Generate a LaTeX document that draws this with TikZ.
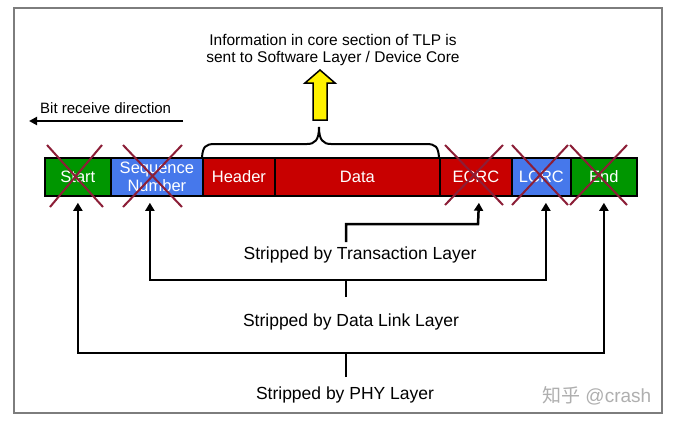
\documentclass[tikz,border=0pt]{standalone}
\usepackage{fontspec}
\setmainfont{Liberation Sans}
\newfontfamily\cjkfont{Noto Sans CJK SC}
\usetikzlibrary{arrows.meta}
\definecolor{pgreen}{RGB}{0,150,0}
\definecolor{pblue}{RGB}{70,120,235}
\definecolor{pred}{RGB}{200,0,0}
\definecolor{xred}{RGB}{140,30,55}
\definecolor{framegray}{RGB}{125,125,125}
\definecolor{wmgray}{RGB}{175,175,175}
\begin{document}
\begin{tikzpicture}[x=1pt,y=-1pt,
  fld/.style={draw=black,line width=1.8pt,minimum height=38pt,inner sep=0pt,
    text=white,font=\fontsize{16.5}{18.5}\selectfont,anchor=north west,align=center},
  conn/.style={line width=2.5pt,-{Triangle[length=8pt,width=9pt]}},
  plain/.style={line width=2.5pt},
  xline/.style={draw=xred,line width=2pt},
  lbl/.style={font=\fontsize{17.5}{20}\selectfont,inner sep=0pt},
  toplbl/.style={font=\fontsize{15.5}{16.5}\selectfont,inner sep=0pt,align=center}]
\useasboundingbox (0,0) rectangle (676,423);
\fill[white] (0,0) rectangle (676,423);

% watermark
\node[text=wmgray,inner sep=0pt,anchor=west,font=\fontsize{19}{21}\selectfont] (wm) at (542,396) {{\cjkfont 知乎} @crash};

\draw[framegray,line width=1.5pt] (14,8) rectangle (662,413);

% fields
\node[fld,fill=pgreen,minimum width=66pt] (start) at (44,157) {Start};
\node[fld,fill=pblue,minimum width=92pt] (seq) at (110,157) {Sequence\\[-1pt]Number};
\node[fld,fill=pred,minimum width=72pt] (hdr) at (202,157) {Header};
\node[fld,fill=pred,minimum width=165pt] (data) at (274,157) {Data};
\node[fld,fill=pred,minimum width=72pt] (ecrc) at (439,157) {ECRC};
\node[fld,fill=pblue,minimum width=59pt] (lcrc) at (511,157) {LCRC};
\node[fld,fill=pgreen,minimum width=66pt] (end) at (570,157) {End};

% crosses
\draw[xline] (47,145) -- (103,207) (102,145) -- (50,207);
\draw[xline] (123,145) -- (182,207) (182,145) -- (123,207);
\draw[xline] (445,145) -- (503,205) (503,145) -- (445,205);
\draw[xline] (512,145) -- (568,205) (568,145) -- (512,205);
\draw[xline] (570,145) -- (627,205) (627,145) -- (570,205);

% brace
\draw[line width=2pt] (hdr.north west) .. controls (203,147) and (205,144) .. (215,144)
  -- (307,144) .. controls (315,144) and (319,140) .. (319,127)
  .. controls (319,140) and (323,144) .. (331,144) -- (426,144)
  .. controls (436,144) and (438,147) .. (ecrc.north west);

% yellow arrow
\draw[fill=yellow,line width=1.5pt,line join=miter]
  (313,120) -- (313,83) -- (305,83) -- (320,70) -- (335,83) -- (327,83) -- (327,120) -- cycle;

\node[toplbl] (info) at (333,50) {Information in core section of TLP is\\sent to Software Layer / Device Core};

% bit receive direction
\node[font=\fontsize{15}{17}\selectfont,inner sep=0pt,anchor=west] (bitlbl) at (40,108) {Bit receive direction};
\coordinate (bitA) at (183,121);
\coordinate (bitB) at (29,121);
\draw[conn,-{Triangle[length=8pt,width=8pt]}] (bitA) -- (bitB);

% labels
\node[lbl] (tl) at (360,255) {Stripped by Transaction Layer};
\node[lbl] (dl) at (351,322) {Stripped by Data Link Layer};
\node[lbl] (pl) at (345,395) {Stripped by PHY Layer};

\coordinate (ts) at (346,242);
\coordinate (ds) at (346,297);
\coordinate (dj) at (346,280);
\coordinate (ps) at (346,377);
\coordinate (pj) at (346,353);

\draw[conn] (ts) |- (478,224) -- ([xshift=3pt,yshift=-6pt]ecrc.south);
\draw[plain] (ds) -- (dj);
\draw[conn] (dj) -| ([xshift=-7pt,yshift=-6pt]seq.south);
\draw[conn] (dj) -| ([xshift=4.5pt,yshift=-6pt]lcrc.south);
\draw[plain] (ps) -- (pj);
\draw[conn] (pj) -| ([yshift=-6pt]start.south);
\draw[conn] (pj) -| ([yshift=-6pt]end.south);
\end{tikzpicture}
\end{document}
